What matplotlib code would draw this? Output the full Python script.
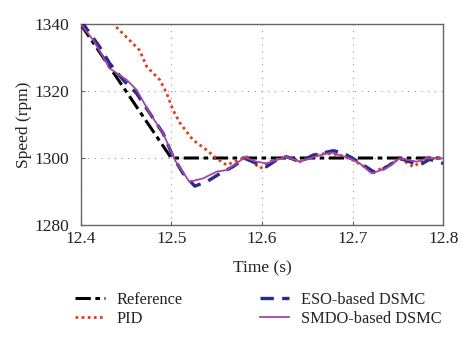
import matplotlib
matplotlib.use("Agg")
import matplotlib.pyplot as plt

plt.rcParams['font.family'] = ['Liberation Serif', 'DejaVu Serif']

ref_t = [12.4, 12.5, 12.8]
ref_v = [1340, 1300, 1300]

pid_t = [12.425, 12.436, 12.454, 12.465, 12.473, 12.4875, 12.495, 12.502, 12.51, 12.524, 12.539,
         12.55, 12.561, 12.583, 12.598, 12.6125, 12.627, 12.642, 12.657, 12.671, 12.686, 12.70,
         12.723, 12.737, 12.752, 12.767, 12.781, 12.8]
pid_v = [1343, 1340, 1335.2, 1332.2, 1327.3, 1323.3, 1319.3, 1314.3, 1310.3, 1305.4, 1302.4,
         1299.9, 1297.9, 1300.4, 1296.9, 1299.4, 1300.4, 1298.9, 1300.9, 1301.4, 1300.9, 1299.4,
         1295.9, 1297.4, 1299.9, 1297.4, 1299.9, 1299.9]

eso_t = [12.4, 12.403, 12.421, 12.432, 12.447, 12.4618, 12.4765, 12.491, 12.502, 12.513, 12.526,
         12.539, 12.554, 12.568, 12.581, 12.594, 12.605, 12.616, 12.627, 12.642, 12.657, 12.679,
         12.69, 12.697, 12.712, 12.726, 12.741, 12.752, 12.763, 12.774, 12.785, 12.8]
eso_v = [1341, 1340, 1333.2, 1328.3, 1323.3, 1319.3, 1313.3, 1307.4, 1300.4, 1295.4, 1291.6,
         1292.9, 1295.4, 1297.4, 1299.9, 1298.4, 1297.4, 1299.4, 1300.4, 1298.9, 1300.9, 1302.2,
         1301.4, 1300.4, 1297.9, 1295.4, 1297.9, 1299.9, 1298.9, 1297.9, 1299.6, 1298.4]

smdo_t = [12.4, 12.414, 12.432, 12.451, 12.462, 12.4765, 12.491, 12.504, 12.52, 12.535, 12.55,
          12.561, 12.572, 12.581, 12.594, 12.605, 12.627, 12.642, 12.665, 12.677, 12.697, 12.708,
          12.721, 12.737, 12.752, 12.771, 12.781, 12.8]
smdo_v = [1340, 1335.2, 1326.8, 1323.3, 1320.3, 1313.3, 1307.4, 1299.4, 1292.9, 1293.9, 1295.9,
          1296.4, 1298.4, 1300.2, 1298.9, 1298.4, 1300.4, 1298.9, 1300.9, 1301.6, 1299.9, 1298.4,
          1295.4, 1296.9, 1299.9, 1298.9, 1299.9, 1299.9]

xticks = [12.4, 12.5, 12.6, 12.7, 12.8]
yticks = [1280, 1300, 1320, 1340]

fig = plt.figure(figsize=(4.74, 3.44), dpi=100)
ax = fig.add_axes([0.170, 0.346, 0.765, 0.584])

l_ref, = ax.plot(ref_t, ref_v, color='black', lw=2.2, linestyle=(0, (5, 1.5, 1.5, 1.5)), zorder=3)
l_pid, = ax.plot(pid_t, pid_v, color='#e0401c', lw=2.0, linestyle=(0, (1, 1.2)), zorder=4)
l_eso, = ax.plot(eso_t, eso_v, color='#2b2b8c', lw=2.4, linestyle=(0, (4, 2.5)), zorder=5)
l_smdo, = ax.plot(smdo_t, smdo_v, color='#a246a8', lw=1.3, zorder=6)

ax.set_xlim(12.4, 12.8)
ax.set_ylim(1280, 1340)
ax.set_xticks(xticks)
ax.set_yticks(yticks)
ax.set_xticklabels([f"{v:.1f}" for v in xticks])
ax.set_yticklabels([str(v) for v in yticks])
ax.tick_params(direction='in', length=3, color='#666666', labelsize=12.5, labelcolor='#222222')
ax.tick_params(axis='x', pad=4)
ax.tick_params(axis='y', pad=8)
ax.grid(True, color='#999999', linestyle=(0, (1, 5)), lw=0.8)
for s in ax.spines.values():
    s.set_color('#666666')
    s.set_linewidth(1.0)

ax.set_xlabel('Time (s)', fontsize=12.5, color='#222222', labelpad=10)
ax.set_ylabel('Speed (rpm)', fontsize=12.5, color='#222222', labelpad=2)

fig.legend([l_ref, l_pid, l_eso, l_smdo],
           ['Reference', 'PID', 'ESO-based DSMC', 'SMDO-based DSMC'],
           loc='upper left', bbox_to_anchor=(0.128, 0.165 + 0.03, 0.8, 0.0), ncol=2,
           frameon=False, fontsize=11.8, handlelength=1.8, columnspacing=4.7,
           labelspacing=0.2, handletextpad=0.7, labelcolor='#222222')

fig.savefig('out.png', dpi=100)
